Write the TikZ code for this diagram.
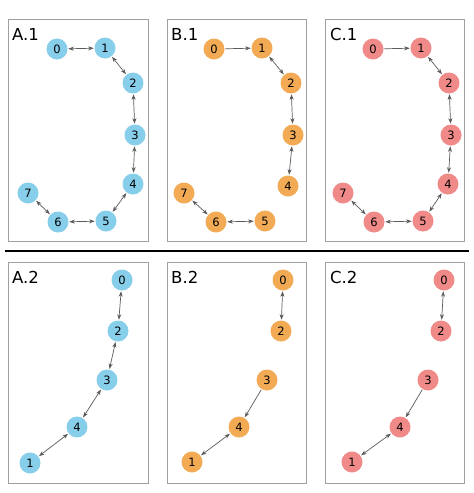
\documentclass[tikz,border=0pt]{standalone}
\usepackage{fontspec}
\setmainfont{DejaVu Sans}
\usetikzlibrary{arrows.meta}
\definecolor{nblue}{HTML}{87CEEB}
\definecolor{norange}{HTML}{F2AA55}
\definecolor{nred}{HTML}{F08A88}
\definecolor{edgegray}{HTML}{5A5A5A}
\definecolor{boxgray}{HTML}{A0A0A0}
\begin{document}
\begin{tikzpicture}[x=1pt,y=-1pt,
  nd/.style={circle,inner sep=0pt,minimum size=21pt,outer sep=0.8pt,font=\fontsize{11.5}{13}\selectfont},
  ndA/.style={nd,fill=nblue},
  ndB/.style={nd,fill=norange},
  ndC/.style={nd,fill=nred},
  bi/.style={draw=edgegray,line width=0.7pt,{Stealth[length=5.5pt,width=4pt]}-{Stealth[length=5.5pt,width=4pt]}},
  uni/.style={draw=edgegray,line width=0.7pt,-{Stealth[length=5.5pt,width=4pt]}},
  panel/.style={draw=boxgray,line width=0.8pt},
  plabel/.style={anchor=base west,inner sep=0pt,font=\fontsize{16.5}{18}\selectfont}]
\useasboundingbox (0,0) rectangle (474,493);
\fill[white] (0,0) rectangle (474,493);
% panel boxes
\draw[panel] (8,19) rectangle (148,241);
\draw[panel] (167,19) rectangle (306,241);
\draw[panel] (325,19) rectangle (464,241);
\draw[panel] (8,262) rectangle (148,483);
\draw[panel] (167,262) rectangle (306,483);
\draw[panel] (325,262) rectangle (464,483);
% separator
\coordinate (sepL) at (5,251);
\coordinate (sepR) at (469,251);
\draw[line width=1.8pt] (sepL) -- (sepR);
% labels
\node[plabel] (la1) at (12,40) {A.1};
\node[plabel] (lb1) at (171,40) {B.1};
\node[plabel] (lc1) at (330,40) {C.1};
\node[plabel] (la2) at (12,283) {A.2};
\node[plabel] (lb2) at (171,283) {B.2};
\node[plabel] (lc2) at (330,283) {C.2};
% A.1
\node[ndA] (a0) at (57,49) {0};
\node[ndA] (a1) at (105,48) {1};
\node[ndA] (a2) at (133,83) {2};
\node[ndA] (a3) at (135,135) {3};
\node[ndA] (a4) at (133,184) {4};
\node[ndA] (a5) at (106,221) {5};
\node[ndA] (a6) at (58,222) {6};
\node[ndA] (a7) at (28,193) {7};
\draw[bi] (a0) -- (a1);
\draw[bi] (a1) -- (a2);
\draw[bi] (a2) -- (a3);
\draw[bi] (a3) -- (a4);
\draw[bi] (a4) -- (a5);
\draw[bi] (a5) -- (a6);
\draw[bi] (a6) -- (a7);
% B.1
\node[ndB] (b0) at (214,49) {0};
\node[ndB] (b1) at (262,48) {1};
\node[ndB] (b2) at (291,83) {2};
\node[ndB] (b3) at (293,135) {3};
\node[ndB] (b4) at (288,186) {4};
\node[ndB] (b5) at (265,221) {5};
\node[ndB] (b6) at (216,222) {6};
\node[ndB] (b7) at (184,193) {7};
\draw[uni] (b0) -- (b1);
\draw[bi] (b1) -- (b2);
\draw[bi] (b2) -- (b3);
\draw[bi] (b3) -- (b4);
\draw[bi] (b5) -- (b6);
\draw[bi] (b6) -- (b7);
% C.1
\node[ndC] (c0) at (373,49) {0};
\node[ndC] (c1) at (421,48) {1};
\node[ndC] (c2) at (449,83) {2};
\node[ndC] (c3) at (451,135) {3};
\node[ndC] (c4) at (448,184) {4};
\node[ndC] (c5) at (423,221) {5};
\node[ndC] (c6) at (374,222) {6};
\node[ndC] (c7) at (343,193) {7};
\draw[uni] (c0) -- (c1);
\draw[bi] (c1) -- (c2);
\draw[bi] (c2) -- (c3);
\draw[bi] (c3) -- (c4);
\draw[bi] (c4) -- (c5);
\draw[bi] (c5) -- (c6);
\draw[bi] (c6) -- (c7);
% A.2
\node[ndA] (d0) at (122,280) {0};
\node[ndA] (d2) at (118,331) {2};
\node[ndA] (d3) at (107,380) {3};
\node[ndA] (d4) at (77,427) {4};
\node[ndA] (d1) at (30,463) {1};
\draw[bi] (d0) -- (d2);
\draw[bi] (d2) -- (d3);
\draw[bi] (d3) -- (d4);
\draw[bi] (d4) -- (d1);
% B.2
\node[ndB] (e0) at (283,280) {0};
\node[ndB] (e2) at (281,331) {2};
\node[ndB] (e3) at (267,380) {3};
\node[ndB] (e4) at (239,427) {4};
\node[ndB] (e1) at (192,462) {1};
\draw[bi] (e0) -- (e2);
\draw[uni] (e3) -- (e4);
\draw[bi] (e4) -- (e1);
% C.2
\node[ndC] (f0) at (444,280) {0};
\node[ndC] (f2) at (441,331) {2};
\node[ndC] (f3) at (428,380) {3};
\node[ndC] (f4) at (400,427) {4};
\node[ndC] (f1) at (352,462) {1};
\draw[bi] (f0) -- (f2);
\draw[uni] (f3) -- (f4);
\draw[bi] (f4) -- (f1);
\end{tikzpicture}
\end{document}
